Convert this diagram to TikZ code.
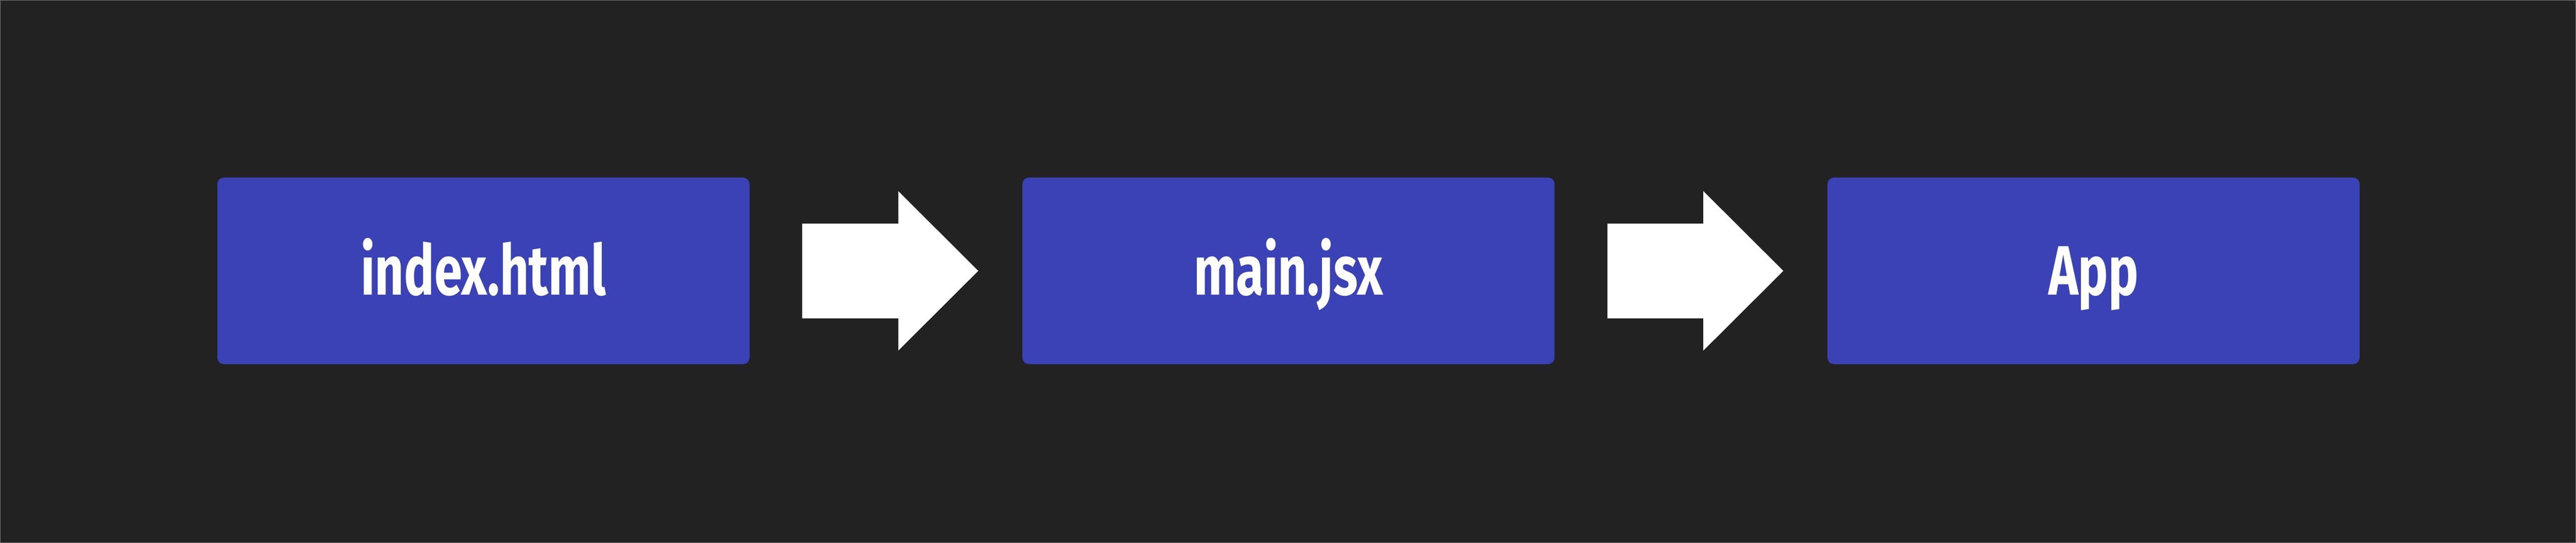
\documentclass[tikz,border=0pt]{standalone}
\usepackage{fontspec}
\newfontfamily\boxfont[FakeStretch=0.72]{Fira Sans}
\usetikzlibrary{positioning,arrows.meta}
\definecolor{canvas}{HTML}{222222}
\definecolor{edgegray}{HTML}{7A7A7A}
\definecolor{fileblue}{HTML}{3A42B5}

\begin{document}
\begin{tikzpicture}[
        node distance=5.41cm,
        fileblock/.style={
            rectangle,
            fill=fileblue,
            rounded corners=1.3mm,
            minimum width=10.58cm,
            minimum height=3.71cm,
            inner sep=0pt,
            text=white,
            text height=0.96cm,
            text depth=0pt,
            font=\boxfont\bfseries\fontsize{39.6}{44}\selectfont
        },
        flowarrow/.style={
            draw=white,
            line width=1.88cm,
            -{Triangle[length=1.59cm, width=3.17cm, line width=0pt]},
            shorten <=1.04cm,
            shorten >=0.87cm
        }
    ]

    % --- Canvas ---
    \useasboundingbox (0,0) rectangle (51.21,10.79);
    \fill[canvas] (0,0) rectangle (51.21,10.79);
    \draw[edgegray, line width=0.01cm] (0.005,0.005) rectangle (51.205,10.785);

    % --- Files ---
    \node[fileblock] (index) at (9.61, 5.405) {index.html};
    \node[fileblock, right=of index] (mainjsx) {main.jsx};
    \node[fileblock, right=of mainjsx] (app) {App};

    % Flow
    \draw[flowarrow] (index) -- (mainjsx);
    \draw[flowarrow] (mainjsx) -- (app);

    \end{tikzpicture}
\end{document}
